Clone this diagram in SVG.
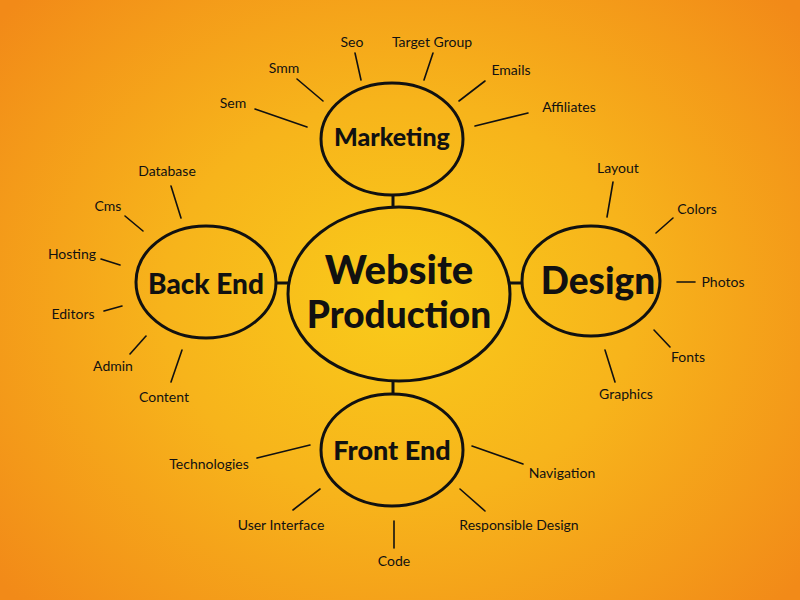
<svg xmlns="http://www.w3.org/2000/svg" width="800" height="600" viewBox="0 0 800 600">
<defs>
<radialGradient id="bg" cx="400" cy="300" r="520" gradientUnits="userSpaceOnUse" gradientTransform="translate(400 300) scale(1 0.85) translate(-400 -300)">
<stop offset="0" stop-color="#F9CB1A"/>
<stop offset="0.45" stop-color="#F7B41B"/>
<stop offset="1" stop-color="#F28A18"/>
</radialGradient>
<style>
.node{fill:none;stroke:#111;stroke-width:3}
.lnk{stroke:#111;stroke-width:3;fill:none}
.br{stroke:#111;stroke-width:1.6;fill:none;stroke-linecap:round}
.t{font-family:"Lato","Liberation Sans",sans-serif;fill:#111;text-anchor:middle}
.big{font-weight:900}
.sm{font-size:14px;font-weight:400}
</style>
</defs>
<rect width="800" height="600" fill="url(#bg)"/>
<g id="connectors">
<line class="lnk" x1="393" y1="195" x2="393" y2="207"/>
<line class="lnk" x1="276" y1="283" x2="288" y2="283"/>
<line class="lnk" x1="510" y1="283" x2="522" y2="283"/>
<line class="lnk" x1="393" y1="382" x2="393" y2="394"/>
<line class="br" x1="355" y1="53" x2="361" y2="80"/>
<line class="br" x1="433" y1="53" x2="424" y2="80"/>
<line class="br" x1="297" y1="79" x2="323" y2="101"/>
<line class="br" x1="485" y1="81" x2="459" y2="101"/>
<line class="br" x1="255" y1="109" x2="307" y2="127"/>
<line class="br" x1="528" y1="113" x2="475" y2="126"/>
<line class="br" x1="171" y1="186" x2="181" y2="218"/>
<line class="br" x1="125" y1="216" x2="143" y2="231"/>
<line class="br" x1="101" y1="259" x2="120" y2="265"/>
<line class="br" x1="104" y1="311" x2="122" y2="306"/>
<line class="br" x1="130" y1="354" x2="146" y2="336"/>
<line class="br" x1="171" y1="382" x2="182" y2="350"/>
<line class="br" x1="613" y1="182" x2="607" y2="217"/>
<line class="br" x1="673" y1="218" x2="656" y2="233"/>
<line class="br" x1="677" y1="282" x2="695" y2="282"/>
<line class="br" x1="654" y1="330" x2="670" y2="347"/>
<line class="br" x1="605" y1="350" x2="615" y2="382"/>
<line class="br" x1="257" y1="458" x2="310" y2="445"/>
<line class="br" x1="472" y1="446" x2="523" y2="464"/>
<line class="br" x1="293" y1="510" x2="320" y2="489"/>
<line class="br" x1="460" y1="489" x2="485" y2="511"/>
<line class="br" x1="394" y1="521" x2="394" y2="548"/>
</g>
<g id="center">
<ellipse class="node" cx="399" cy="294" rx="111" ry="87"/>
<text class="t big" x="399" y="284" font-size="40">Website</text>
<text class="t big" x="399" y="328" font-size="37">Production</text>
</g>
<g id="marketing">
<ellipse class="node" cx="392" cy="139" rx="71" ry="56"/>
<text class="t big" x="392" y="146" font-size="25">Marketing</text>
</g>
<g id="backend">
<ellipse class="node" cx="206" cy="282" rx="70" ry="56"/>
<text class="t big" x="206" y="294" font-size="28">Back End</text>
</g>
<g id="design">
<ellipse class="node" cx="591" cy="281" rx="69" ry="55"/>
<text class="t big" x="598" y="294" font-size="37">Design</text>
</g>
<g id="frontend">
<ellipse class="node" cx="392" cy="450" rx="71" ry="56"/>
<text class="t big" x="392" y="460" font-size="27">Front End</text>
</g>
<g id="labels">
<text class="t sm" x="352" y="47">Seo</text>
<text class="t sm" x="432" y="47">Target Group</text>
<text class="t sm" x="284" y="73">Smm</text>
<text class="t sm" x="511" y="75">Emails</text>
<text class="t sm" x="233" y="108">Sem</text>
<text class="t sm" x="569" y="112">Affiliates</text>
<text class="t sm" x="167" y="176">Database</text>
<text class="t sm" x="108" y="211">Cms</text>
<text class="t sm" x="72" y="259">Hosting</text>
<text class="t sm" x="73" y="319">Editors</text>
<text class="t sm" x="113" y="371">Admin</text>
<text class="t sm" x="164" y="402">Content</text>
<text class="t sm" x="618" y="173">Layout</text>
<text class="t sm" x="697" y="214">Colors</text>
<text class="t sm" x="723" y="287">Photos</text>
<text class="t sm" x="688" y="362">Fonts</text>
<text class="t sm" x="626" y="399">Graphics</text>
<text class="t sm" x="209" y="469">Technologies</text>
<text class="t sm" x="562" y="478">Navigation</text>
<text class="t sm" x="281" y="530">User Interface</text>
<text class="t sm" x="519" y="530">Responsible Design</text>
<text class="t sm" x="394" y="566">Code</text>
</g>
</svg>
